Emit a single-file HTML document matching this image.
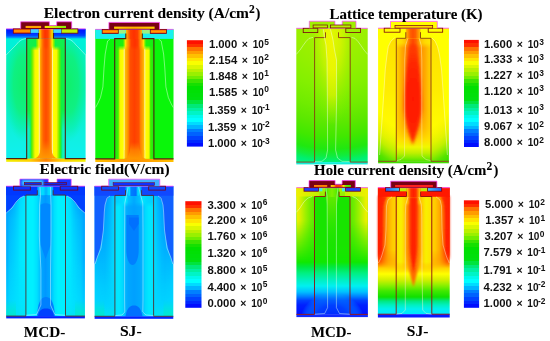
<!DOCTYPE html>
<html><head><meta charset="utf-8"><title>Simulation results</title>
<style>html,body{margin:0;padding:0;background:#fff;} body{width:550px;height:341px;overflow:hidden;} svg{display:block;}</style>
</head><body><svg width="550" height="341" viewBox="0 0 550 341"><defs><filter id="blur2" x="-50%" y="-20%" width="200%" height="140%"><feGaussianBlur stdDeviation="1.6"/></filter><filter id="blur1" x="-50%" y="-20%" width="200%" height="140%"><feGaussianBlur stdDeviation="0.8"/></filter><linearGradient id="g1" x1="0" y1="0" x2="0" y2="1"><stop offset="0.0000" stop-color="#00e0e0"/><stop offset="0.0856" stop-color="#00f0d0"/><stop offset="0.2398" stop-color="#04f0bc"/><stop offset="0.4711" stop-color="#06f0b4"/><stop offset="0.6638" stop-color="#0cf0cc"/><stop offset="0.8180" stop-color="#10f0e0"/><stop offset="1.0000" stop-color="#10f0f0"/></linearGradient><clipPath id="c2"><rect x="6.2" y="38" width="20.5" height="120.6"/></clipPath><radialGradient id="g3" cx="0.5" cy="0.5" r="0.5"><stop offset="0" stop-color="#10f068" stop-opacity="0.95"/><stop offset="0.5" stop-color="#10f078" stop-opacity="0.85"/><stop offset="0.8" stop-color="#08f098" stop-opacity="0.45"/><stop offset="1" stop-color="#08f0b0" stop-opacity="0"/></radialGradient><clipPath id="c4"><rect x="65.3" y="38" width="20.299999999999997" height="120.6"/></clipPath><radialGradient id="g5" cx="0.5" cy="0.5" r="0.5"><stop offset="0" stop-color="#10f068" stop-opacity="0.95"/><stop offset="0.5" stop-color="#10f078" stop-opacity="0.85"/><stop offset="0.8" stop-color="#08f098" stop-opacity="0.45"/><stop offset="1" stop-color="#08f0b0" stop-opacity="0"/></radialGradient><linearGradient id="g6" x1="0" y1="0" x2="1" y2="0"><stop offset="0.0000" stop-color="#10f050"/><stop offset="0.0855" stop-color="#10f040"/><stop offset="0.1373" stop-color="#60f000"/><stop offset="0.1839" stop-color="#c0f000"/><stop offset="0.2150" stop-color="#f8f800"/><stop offset="0.3005" stop-color="#ffff00"/><stop offset="0.3264" stop-color="#fff0a0"/><stop offset="0.3472" stop-color="#ffb000"/><stop offset="0.3912" stop-color="#ff8000"/><stop offset="0.4352" stop-color="#ff6000"/><stop offset="0.5000" stop-color="#ff4c00"/><stop offset="0.5648" stop-color="#ff6000"/><stop offset="0.6088" stop-color="#ff8000"/><stop offset="0.6451" stop-color="#ffa800"/><stop offset="0.6658" stop-color="#fff0a0"/><stop offset="0.6891" stop-color="#ffff00"/><stop offset="0.7720" stop-color="#f8f800"/><stop offset="0.8031" stop-color="#c0f000"/><stop offset="0.8497" stop-color="#60f000"/><stop offset="0.9016" stop-color="#10f040"/><stop offset="1.0000" stop-color="#10f050"/></linearGradient><linearGradient id="g7" x1="0" y1="0" x2="1" y2="0"><stop offset="0.0000" stop-color="#10f050"/><stop offset="0.2280" stop-color="#10f048"/><stop offset="0.2746" stop-color="#80f000"/><stop offset="0.3161" stop-color="#f0f000"/><stop offset="0.3497" stop-color="#ffc000"/><stop offset="0.3964" stop-color="#ff8000"/><stop offset="0.4482" stop-color="#ff5000"/><stop offset="0.5000" stop-color="#ff4000"/><stop offset="0.5518" stop-color="#ff5000"/><stop offset="0.6036" stop-color="#ff8000"/><stop offset="0.6347" stop-color="#ffc000"/><stop offset="0.6658" stop-color="#f0f000"/><stop offset="0.7021" stop-color="#80f000"/><stop offset="0.7461" stop-color="#10f048"/><stop offset="1.0000" stop-color="#10f050"/></linearGradient><linearGradient id="g9" x1="0" y1="0" x2="0" y2="1"><stop offset="0.0000" stop-color="#fff" stop-opacity="1"/><stop offset="0.5620" stop-color="#fff" stop-opacity="1"/><stop offset="0.8905" stop-color="#fff" stop-opacity="0"/></linearGradient><mask id="m8" maskUnits="userSpaceOnUse" x="26.7" y="38.3" width="38.599999999999994" height="13.700000000000003"><rect x="26.7" y="38.3" width="38.599999999999994" height="13.700000000000003" fill="url(#g9)"/></mask><linearGradient id="g10" x1="0" y1="0" x2="1" y2="0"><stop offset="0.0000" stop-color="#10f0f0" stop-opacity="1"/><stop offset="0.6000" stop-color="#10f0c0" stop-opacity="0.8"/><stop offset="1.0000" stop-color="#00f070" stop-opacity="0"/></linearGradient><linearGradient id="g12" x1="0" y1="0" x2="0" y2="1"><stop offset="0.0000" stop-color="#fff" stop-opacity="0"/><stop offset="0.4115" stop-color="#fff" stop-opacity="1"/></linearGradient><mask id="m11" maskUnits="userSpaceOnUse" x="26.7" y="110" width="5" height="48.599999999999994"><rect x="26.7" y="110" width="5" height="48.599999999999994" fill="url(#g12)"/></mask><linearGradient id="g13" x1="0" y1="0" x2="1" y2="0"><stop offset="0.0000" stop-color="#00f070" stop-opacity="0"/><stop offset="0.4000" stop-color="#10f0c0" stop-opacity="0.8"/><stop offset="1.0000" stop-color="#10f0f0" stop-opacity="1"/></linearGradient><linearGradient id="g15" x1="0" y1="0" x2="0" y2="1"><stop offset="0.0000" stop-color="#fff" stop-opacity="0"/><stop offset="0.4115" stop-color="#fff" stop-opacity="1"/></linearGradient><mask id="m14" maskUnits="userSpaceOnUse" x="60.3" y="110" width="5" height="48.599999999999994"><rect x="60.3" y="110" width="5" height="48.599999999999994" fill="url(#g15)"/></mask><linearGradient id="g16" x1="0" y1="0" x2="0" y2="1"><stop offset="0.0000" stop-color="#0010ff"/><stop offset="0.4227" stop-color="#0028ff"/><stop offset="0.6804" stop-color="#0048ff"/><stop offset="0.8351" stop-color="#0080ff"/><stop offset="1.0000" stop-color="#00c8f0"/></linearGradient><linearGradient id="g17" x1="0" y1="0" x2="1" y2="0"><stop offset="0.0000" stop-color="#f0f000"/><stop offset="0.0940" stop-color="#ffc000"/><stop offset="0.2282" stop-color="#ff6000"/><stop offset="0.4295" stop-color="#ff3000"/><stop offset="0.6309" stop-color="#ff4000"/><stop offset="0.7651" stop-color="#ff8000"/><stop offset="0.8993" stop-color="#ffd000"/><stop offset="1.0000" stop-color="#c0f000"/></linearGradient><linearGradient id="g18" x1="0" y1="0" x2="0" y2="1"><stop offset="0.0000" stop-color="#ff8000" stop-opacity="0"/><stop offset="0.5376" stop-color="#ff9000" stop-opacity="0.7"/><stop offset="1.0000" stop-color="#ff9800" stop-opacity="1"/></linearGradient><linearGradient id="g19" x1="0" y1="0" x2="1" y2="0"><stop offset="0.0000" stop-color="#f0f000"/><stop offset="0.2997" stop-color="#ffd000"/><stop offset="0.5013" stop-color="#ff8000"/><stop offset="0.7028" stop-color="#ffd000"/><stop offset="1.0000" stop-color="#f0f000"/></linearGradient><linearGradient id="g20" x1="0" y1="0" x2="0" y2="1"><stop offset="0.0000" stop-color="#ff5000"/><stop offset="0.5000" stop-color="#ffa000"/><stop offset="1.0000" stop-color="#ff5000"/></linearGradient><linearGradient id="g21" x1="0" y1="0" x2="0" y2="1"><stop offset="0.0000" stop-color="#a0f000"/><stop offset="0.5000" stop-color="#d0f000"/><stop offset="1.0000" stop-color="#a0f000"/></linearGradient><linearGradient id="g22" x1="0" y1="0" x2="1" y2="0"><stop offset="0.0000" stop-color="#ffe000"/><stop offset="0.4836" stop-color="#c0f000"/><stop offset="1.0000" stop-color="#80f000"/></linearGradient><linearGradient id="g23" x1="0" y1="0" x2="1" y2="0"><stop offset="0.0000" stop-color="#10f010"/><stop offset="0.0893" stop-color="#40f000"/><stop offset="0.1173" stop-color="#c0f000"/><stop offset="0.1403" stop-color="#f8f800"/><stop offset="0.2117" stop-color="#ffff00"/><stop offset="0.2423" stop-color="#fff080"/><stop offset="0.2628" stop-color="#ffc000"/><stop offset="0.3138" stop-color="#ffa000"/><stop offset="0.3520" stop-color="#ff8000"/><stop offset="0.3903" stop-color="#ff5000"/><stop offset="0.5051" stop-color="#ff4000"/><stop offset="0.6199" stop-color="#ff5000"/><stop offset="0.6582" stop-color="#ff8000"/><stop offset="0.7092" stop-color="#ffa000"/><stop offset="0.7474" stop-color="#ffc000"/><stop offset="0.7679" stop-color="#fff080"/><stop offset="0.7985" stop-color="#ffff00"/><stop offset="0.8648" stop-color="#f8f800"/><stop offset="0.8878" stop-color="#c0f000"/><stop offset="0.9158" stop-color="#40f000"/><stop offset="1.0000" stop-color="#10f010"/></linearGradient><linearGradient id="g24" x1="0" y1="0" x2="1" y2="0"><stop offset="0.0000" stop-color="#10f010"/><stop offset="0.2117" stop-color="#20f010"/><stop offset="0.2500" stop-color="#a0f000"/><stop offset="0.2755" stop-color="#ffe000"/><stop offset="0.3138" stop-color="#ffb000"/><stop offset="0.3648" stop-color="#ff8000"/><stop offset="0.4158" stop-color="#ff4000"/><stop offset="0.5179" stop-color="#ff3000"/><stop offset="0.5944" stop-color="#ff4000"/><stop offset="0.6454" stop-color="#ff8000"/><stop offset="0.6964" stop-color="#ffb000"/><stop offset="0.7347" stop-color="#ffe000"/><stop offset="0.7602" stop-color="#a0f000"/><stop offset="0.7985" stop-color="#20f010"/><stop offset="1.0000" stop-color="#10f010"/></linearGradient><linearGradient id="g26" x1="0" y1="0" x2="0" y2="1"><stop offset="0.0000" stop-color="#fff" stop-opacity="1"/><stop offset="0.5149" stop-color="#fff" stop-opacity="1"/><stop offset="0.8881" stop-color="#fff" stop-opacity="0"/></linearGradient><mask id="m25" maskUnits="userSpaceOnUse" x="114.7" y="38.6" width="39.2" height="13.399999999999999"><rect x="114.7" y="38.6" width="39.2" height="13.399999999999999" fill="url(#g26)"/></mask><linearGradient id="g27" x1="0" y1="0" x2="1" y2="0"><stop offset="0.0000" stop-color="#ffd000"/><stop offset="0.1333" stop-color="#ff8000"/><stop offset="0.2848" stop-color="#ff4000"/><stop offset="0.4970" stop-color="#ff3000"/><stop offset="0.7091" stop-color="#ff4000"/><stop offset="0.8606" stop-color="#ff8000"/><stop offset="1.0000" stop-color="#ffd000"/></linearGradient><linearGradient id="g28" x1="0" y1="0" x2="0" y2="1"><stop offset="0.0000" stop-color="#ff8000" stop-opacity="0"/><stop offset="0.4734" stop-color="#ff9000" stop-opacity="0.7"/><stop offset="1.0000" stop-color="#ff9800" stop-opacity="1"/></linearGradient><linearGradient id="g29" x1="0" y1="0" x2="1" y2="0"><stop offset="0.0000" stop-color="#ffc000"/><stop offset="0.4949" stop-color="#ff9000"/><stop offset="1.0000" stop-color="#ffc000"/></linearGradient><linearGradient id="g30" x1="0" y1="0" x2="0" y2="1"><stop offset="0.0000" stop-color="#ff5000"/><stop offset="0.5000" stop-color="#ffa000"/><stop offset="1.0000" stop-color="#ff5000"/></linearGradient><linearGradient id="g31" x1="0" y1="0" x2="0" y2="1"><stop offset="0.0000" stop-color="#ff5000"/><stop offset="0.5000" stop-color="#ffa000"/><stop offset="1.0000" stop-color="#ff5000"/></linearGradient><linearGradient id="g32" x1="0" y1="0" x2="1" y2="0"><stop offset="0.0000" stop-color="#ffd000"/><stop offset="0.4878" stop-color="#ffb000"/><stop offset="1.0000" stop-color="#ffd000"/></linearGradient><linearGradient id="g33" x1="0" y1="0" x2="0" y2="1"><stop offset="0.0000" stop-color="#ff1000"/><stop offset="0.0333" stop-color="#ff1000"/><stop offset="0.0333" stop-color="#ff3000"/><stop offset="0.0667" stop-color="#ff3000"/><stop offset="0.0667" stop-color="#ff7300"/><stop offset="0.1000" stop-color="#ff7300"/><stop offset="0.1000" stop-color="#ff9c00"/><stop offset="0.1333" stop-color="#ff9c00"/><stop offset="0.1333" stop-color="#ffc000"/><stop offset="0.1667" stop-color="#ffc000"/><stop offset="0.1667" stop-color="#ffe300"/><stop offset="0.2000" stop-color="#ffe300"/><stop offset="0.2000" stop-color="#f9fe00"/><stop offset="0.2333" stop-color="#f9fe00"/><stop offset="0.2333" stop-color="#dbf600"/><stop offset="0.2667" stop-color="#dbf600"/><stop offset="0.2667" stop-color="#bcf000"/><stop offset="0.3000" stop-color="#bcf000"/><stop offset="0.3000" stop-color="#99f000"/><stop offset="0.3333" stop-color="#99f000"/><stop offset="0.3333" stop-color="#70ed00"/><stop offset="0.3667" stop-color="#70ed00"/><stop offset="0.3667" stop-color="#3be400"/><stop offset="0.4000" stop-color="#3be400"/><stop offset="0.4000" stop-color="#15e000"/><stop offset="0.4333" stop-color="#15e000"/><stop offset="0.4333" stop-color="#00e000"/><stop offset="0.4667" stop-color="#00e000"/><stop offset="0.4667" stop-color="#00e005"/><stop offset="0.5000" stop-color="#00e005"/><stop offset="0.5000" stop-color="#00e00a"/><stop offset="0.5333" stop-color="#00e00a"/><stop offset="0.5333" stop-color="#00e00f"/><stop offset="0.5667" stop-color="#00e00f"/><stop offset="0.5667" stop-color="#00e43d"/><stop offset="0.6000" stop-color="#00e43d"/><stop offset="0.6000" stop-color="#00e978"/><stop offset="0.6333" stop-color="#00e978"/><stop offset="0.6333" stop-color="#00f0a0"/><stop offset="0.6667" stop-color="#00f0a0"/><stop offset="0.6667" stop-color="#00f4c6"/><stop offset="0.7000" stop-color="#00f4c6"/><stop offset="0.7000" stop-color="#00f8ec"/><stop offset="0.7333" stop-color="#00f8ec"/><stop offset="0.7333" stop-color="#00ffff"/><stop offset="0.7667" stop-color="#00ffff"/><stop offset="0.7667" stop-color="#00dcff"/><stop offset="0.8000" stop-color="#00dcff"/><stop offset="0.8000" stop-color="#00b5ff"/><stop offset="0.8333" stop-color="#00b5ff"/><stop offset="0.8333" stop-color="#0080ff"/><stop offset="0.8667" stop-color="#0080ff"/><stop offset="0.8667" stop-color="#0062ff"/><stop offset="0.9000" stop-color="#0062ff"/><stop offset="0.9000" stop-color="#0043ff"/><stop offset="0.9333" stop-color="#0043ff"/><stop offset="0.9333" stop-color="#0028ff"/><stop offset="0.9667" stop-color="#0028ff"/><stop offset="0.9667" stop-color="#000dff"/><stop offset="1.0000" stop-color="#000dff"/></linearGradient><radialGradient id="g34" gradientUnits="userSpaceOnUse" cx="332.4" cy="22" r="142"><stop offset="0.0000" stop-color="#a8f000"/><stop offset="0.1761" stop-color="#a0f000"/><stop offset="0.3169" stop-color="#94f000"/><stop offset="0.4577" stop-color="#84f000"/><stop offset="0.5986" stop-color="#70ec00"/><stop offset="0.7042" stop-color="#5ce800"/><stop offset="0.8099" stop-color="#40e800"/><stop offset="0.8944" stop-color="#20e810"/><stop offset="0.9437" stop-color="#10ec40"/><stop offset="0.9789" stop-color="#00f070"/><stop offset="1.0000" stop-color="#00f080"/></radialGradient><radialGradient id="g35" gradientUnits="userSpaceOnUse" cx="332.5" cy="36" r="100" gradientTransform="translate(332.5 36) scale(0.3 1.0) translate(-332.5 -36)"><stop offset="0.0000" stop-color="#e8f800" stop-opacity="0.9"/><stop offset="0.2500" stop-color="#e0f400" stop-opacity="0.8"/><stop offset="0.4000" stop-color="#ccf400" stop-opacity="0.7"/><stop offset="0.5500" stop-color="#b8f000" stop-opacity="0.5"/><stop offset="0.7000" stop-color="#a0f000" stop-opacity="0.3"/><stop offset="0.9000" stop-color="#80f000" stop-opacity="0"/></radialGradient><linearGradient id="g36" x1="0" y1="0" x2="0" y2="1"><stop offset="0.0000" stop-color="#f8f800" stop-opacity="0.6"/><stop offset="0.4312" stop-color="#f8f800" stop-opacity="0.7"/><stop offset="0.6898" stop-color="#e8f400" stop-opacity="0.6"/><stop offset="1.0000" stop-color="#a0f000" stop-opacity="0"/></linearGradient><radialGradient id="g37" gradientUnits="userSpaceOnUse" cx="413.5" cy="40" r="135" gradientTransform="translate(413.5 40) scale(0.6 1.0) translate(-413.5 -40)"><stop offset="0.0000" stop-color="#ffff00"/><stop offset="0.6815" stop-color="#ffff00"/><stop offset="0.7407" stop-color="#f4f800"/><stop offset="0.8000" stop-color="#e0f400"/><stop offset="0.8519" stop-color="#c0f000"/><stop offset="0.8963" stop-color="#90ec00"/><stop offset="0.9407" stop-color="#58e400"/><stop offset="1.0000" stop-color="#30e000"/></radialGradient><linearGradient id="g38" x1="0" y1="0" x2="0" y2="1"><stop offset="0.0000" stop-color="#ffd800" stop-opacity="0.8"/><stop offset="0.5098" stop-color="#ffe000" stop-opacity="0.6"/><stop offset="1.0000" stop-color="#ffe800" stop-opacity="0"/></linearGradient><linearGradient id="g39" x1="0" y1="0" x2="0" y2="1"><stop offset="0.0000" stop-color="#ffd800" stop-opacity="0.8"/><stop offset="0.5098" stop-color="#ffe000" stop-opacity="0.6"/><stop offset="1.0000" stop-color="#ffe800" stop-opacity="0"/></linearGradient><linearGradient id="g40" x1="0" y1="0" x2="1" y2="0"><stop offset="0.0000" stop-color="#ffd000"/><stop offset="0.0778" stop-color="#ffc000"/><stop offset="0.1643" stop-color="#ffa800"/><stop offset="0.2421" stop-color="#ff9800"/><stop offset="0.2795" stop-color="#ff8800"/><stop offset="0.3372" stop-color="#ff6800"/><stop offset="0.3948" stop-color="#ff5000"/><stop offset="0.4813" stop-color="#ff4000"/><stop offset="0.5677" stop-color="#ff5000"/><stop offset="0.6254" stop-color="#ff6800"/><stop offset="0.6830" stop-color="#ff8800"/><stop offset="0.7349" stop-color="#ff9800"/><stop offset="0.8271" stop-color="#ffa800"/><stop offset="0.9135" stop-color="#ffc000"/><stop offset="1.0000" stop-color="#ffd000"/></linearGradient><linearGradient id="g41" x1="0" y1="0" x2="1" y2="0"><stop offset="0.0000" stop-color="#ffe800"/><stop offset="0.1643" stop-color="#ffd800"/><stop offset="0.2738" stop-color="#ffc000"/><stop offset="0.3228" stop-color="#ff9000"/><stop offset="0.3948" stop-color="#ff6000"/><stop offset="0.4813" stop-color="#ff4800"/><stop offset="0.5677" stop-color="#ff6000"/><stop offset="0.6398" stop-color="#ff9000"/><stop offset="0.6974" stop-color="#ffc000"/><stop offset="0.8271" stop-color="#ffd800"/><stop offset="1.0000" stop-color="#ffe800"/></linearGradient><linearGradient id="g43" x1="0" y1="0" x2="0" y2="1"><stop offset="0.0000" stop-color="#fff" stop-opacity="1"/><stop offset="0.4017" stop-color="#fff" stop-opacity="1"/><stop offset="0.8291" stop-color="#fff" stop-opacity="0"/></linearGradient><mask id="m42" maskUnits="userSpaceOnUse" x="396.3" y="38.3" width="34.69999999999999" height="11.700000000000003"><rect x="396.3" y="38.3" width="34.69999999999999" height="11.700000000000003" fill="url(#g43)"/></mask><linearGradient id="g44" x1="0" y1="0" x2="0" y2="1"><stop offset="0.0000" stop-color="#ffd000" stop-opacity="0"/><stop offset="0.3509" stop-color="#ffd800" stop-opacity="0.45"/><stop offset="0.5848" stop-color="#ffe800" stop-opacity="0.85"/><stop offset="0.7212" stop-color="#f0f800" stop-opacity="1"/><stop offset="0.8382" stop-color="#c0f000" stop-opacity="1"/><stop offset="0.9357" stop-color="#80ec00" stop-opacity="1"/><stop offset="1.0000" stop-color="#50e400" stop-opacity="1"/></linearGradient><radialGradient id="g45" gradientUnits="userSpaceOnUse" cx="413" cy="100" r="52" gradientTransform="translate(413 100) scale(0.3 1.0) translate(-413 -100)"><stop offset="0.0000" stop-color="#ff1800"/><stop offset="0.4808" stop-color="#ff2000"/><stop offset="0.7308" stop-color="#ff2800"/><stop offset="0.9231" stop-color="#ff3800"/></radialGradient><linearGradient id="g46" x1="0" y1="0" x2="1" y2="0"><stop offset="0.0000" stop-color="#ffc000"/><stop offset="0.1497" stop-color="#ff9000"/><stop offset="0.3197" stop-color="#ff6000"/><stop offset="0.4898" stop-color="#ff5000"/><stop offset="0.6599" stop-color="#ff6000"/><stop offset="0.8299" stop-color="#ff9000"/><stop offset="1.0000" stop-color="#ffc000"/></linearGradient><linearGradient id="g47" x1="0" y1="0" x2="0" y2="1"><stop offset="0.0000" stop-color="#ff1000"/><stop offset="0.0333" stop-color="#ff1000"/><stop offset="0.0333" stop-color="#ff3000"/><stop offset="0.0667" stop-color="#ff3000"/><stop offset="0.0667" stop-color="#ff7300"/><stop offset="0.1000" stop-color="#ff7300"/><stop offset="0.1000" stop-color="#ff9c00"/><stop offset="0.1333" stop-color="#ff9c00"/><stop offset="0.1333" stop-color="#ffc000"/><stop offset="0.1667" stop-color="#ffc000"/><stop offset="0.1667" stop-color="#ffe300"/><stop offset="0.2000" stop-color="#ffe300"/><stop offset="0.2000" stop-color="#f9fe00"/><stop offset="0.2333" stop-color="#f9fe00"/><stop offset="0.2333" stop-color="#dbf600"/><stop offset="0.2667" stop-color="#dbf600"/><stop offset="0.2667" stop-color="#bcf000"/><stop offset="0.3000" stop-color="#bcf000"/><stop offset="0.3000" stop-color="#99f000"/><stop offset="0.3333" stop-color="#99f000"/><stop offset="0.3333" stop-color="#70ed00"/><stop offset="0.3667" stop-color="#70ed00"/><stop offset="0.3667" stop-color="#3be400"/><stop offset="0.4000" stop-color="#3be400"/><stop offset="0.4000" stop-color="#15e000"/><stop offset="0.4333" stop-color="#15e000"/><stop offset="0.4333" stop-color="#00e000"/><stop offset="0.4667" stop-color="#00e000"/><stop offset="0.4667" stop-color="#00e005"/><stop offset="0.5000" stop-color="#00e005"/><stop offset="0.5000" stop-color="#00e00a"/><stop offset="0.5333" stop-color="#00e00a"/><stop offset="0.5333" stop-color="#00e00f"/><stop offset="0.5667" stop-color="#00e00f"/><stop offset="0.5667" stop-color="#00e43d"/><stop offset="0.6000" stop-color="#00e43d"/><stop offset="0.6000" stop-color="#00e978"/><stop offset="0.6333" stop-color="#00e978"/><stop offset="0.6333" stop-color="#00f0a0"/><stop offset="0.6667" stop-color="#00f0a0"/><stop offset="0.6667" stop-color="#00f4c6"/><stop offset="0.7000" stop-color="#00f4c6"/><stop offset="0.7000" stop-color="#00f8ec"/><stop offset="0.7333" stop-color="#00f8ec"/><stop offset="0.7333" stop-color="#00ffff"/><stop offset="0.7667" stop-color="#00ffff"/><stop offset="0.7667" stop-color="#00dcff"/><stop offset="0.8000" stop-color="#00dcff"/><stop offset="0.8000" stop-color="#00b5ff"/><stop offset="0.8333" stop-color="#00b5ff"/><stop offset="0.8333" stop-color="#0080ff"/><stop offset="0.8667" stop-color="#0080ff"/><stop offset="0.8667" stop-color="#0062ff"/><stop offset="0.9000" stop-color="#0062ff"/><stop offset="0.9000" stop-color="#0043ff"/><stop offset="0.9333" stop-color="#0043ff"/><stop offset="0.9333" stop-color="#0028ff"/><stop offset="0.9667" stop-color="#0028ff"/><stop offset="0.9667" stop-color="#000dff"/><stop offset="1.0000" stop-color="#000dff"/></linearGradient><linearGradient id="g48" x1="0" y1="0" x2="0" y2="1"><stop offset="0.0000" stop-color="#0060ff"/><stop offset="0.1447" stop-color="#0098ff"/><stop offset="0.2602" stop-color="#00b8ff"/><stop offset="0.4142" stop-color="#00c8ff"/><stop offset="0.6451" stop-color="#00d8ff"/><stop offset="0.8761" stop-color="#00e0ff"/><stop offset="1.0000" stop-color="#00e4f4"/></linearGradient><linearGradient id="g49" x1="0" y1="0" x2="1" y2="0"><stop offset="0.0000" stop-color="#0090ff" stop-opacity="0.7"/><stop offset="0.1929" stop-color="#00b8ff" stop-opacity="0.4"/><stop offset="0.4467" stop-color="#00d8ff" stop-opacity="0.5"/><stop offset="0.7005" stop-color="#00ecff" stop-opacity="0.8"/><stop offset="1.0000" stop-color="#00f0ff" stop-opacity="0.95"/></linearGradient><linearGradient id="g51" x1="0" y1="0" x2="0" y2="1"><stop offset="0.0000" stop-color="#fff" stop-opacity="1"/><stop offset="0.5329" stop-color="#fff" stop-opacity="1"/><stop offset="0.8659" stop-color="#fff" stop-opacity="0.5"/><stop offset="1.0000" stop-color="#fff" stop-opacity="0.2"/></linearGradient><mask id="m50" maskUnits="userSpaceOnUse" x="6.2" y="196" width="19.7" height="120.10000000000002"><rect x="6.2" y="196" width="19.7" height="120.10000000000002" fill="url(#g51)"/></mask><linearGradient id="g52" x1="0" y1="0" x2="1" y2="0"><stop offset="0.0000" stop-color="#00f0ff" stop-opacity="0.95"/><stop offset="0.2423" stop-color="#00ecff" stop-opacity="0.8"/><stop offset="0.5000" stop-color="#00d8ff" stop-opacity="0.5"/><stop offset="0.7577" stop-color="#00b8ff" stop-opacity="0.4"/><stop offset="1.0000" stop-color="#0090ff" stop-opacity="0.7"/></linearGradient><linearGradient id="g54" x1="0" y1="0" x2="0" y2="1"><stop offset="0.0000" stop-color="#fff" stop-opacity="1"/><stop offset="0.5329" stop-color="#fff" stop-opacity="1"/><stop offset="0.8659" stop-color="#fff" stop-opacity="0.5"/><stop offset="1.0000" stop-color="#fff" stop-opacity="0.2"/></linearGradient><mask id="m53" maskUnits="userSpaceOnUse" x="65.5" y="196" width="19.400000000000006" height="120.10000000000002"><rect x="65.5" y="196" width="19.400000000000006" height="120.10000000000002" fill="url(#g54)"/></mask><linearGradient id="g56" x1="0" y1="0" x2="0" y2="1"><stop offset="0.0000" stop-color="#fff" stop-opacity="0"/><stop offset="1.0000" stop-color="#fff" stop-opacity="0.8"/></linearGradient><mask id="m55" maskUnits="userSpaceOnUse" x="6.2" y="300" width="10" height="16.100000000000023"><rect x="6.2" y="300" width="10" height="16.100000000000023" fill="url(#g56)"/></mask><linearGradient id="g58" x1="0" y1="0" x2="0" y2="1"><stop offset="0.0000" stop-color="#fff" stop-opacity="0"/><stop offset="1.0000" stop-color="#fff" stop-opacity="0.8"/></linearGradient><mask id="m57" maskUnits="userSpaceOnUse" x="74.9" y="300" width="10" height="16.100000000000023"><rect x="74.9" y="300" width="10" height="16.100000000000023" fill="url(#g58)"/></mask><linearGradient id="g59" x1="0" y1="0" x2="1" y2="0"><stop offset="0.0000" stop-color="#00f0ff"/><stop offset="0.1793" stop-color="#00f0ff"/><stop offset="0.2803" stop-color="#00e0ff"/><stop offset="0.3434" stop-color="#00c8ff"/><stop offset="0.3813" stop-color="#00a8ff"/><stop offset="0.4949" stop-color="#0098ff"/><stop offset="0.6086" stop-color="#00a8ff"/><stop offset="0.6591" stop-color="#00c8ff"/><stop offset="0.7222" stop-color="#00e0ff"/><stop offset="0.8106" stop-color="#00f0ff"/><stop offset="1.0000" stop-color="#00f0ff"/></linearGradient><linearGradient id="g60" x1="0" y1="0" x2="1" y2="0"><stop offset="0.0000" stop-color="#00a0ff"/><stop offset="0.1698" stop-color="#00d0ff"/><stop offset="0.3585" stop-color="#00e0ff"/><stop offset="0.5472" stop-color="#00b0ff"/><stop offset="0.7358" stop-color="#00e0ff"/><stop offset="0.8616" stop-color="#00d0ff"/><stop offset="1.0000" stop-color="#00a0ff"/></linearGradient><linearGradient id="g61" x1="0" y1="0" x2="0" y2="1"><stop offset="0.0000" stop-color="#0070ff"/><stop offset="0.1829" stop-color="#0090ff"/><stop offset="0.4135" stop-color="#00a8ff"/><stop offset="0.6057" stop-color="#00c0ff"/><stop offset="0.7594" stop-color="#00d0ff"/><stop offset="0.9131" stop-color="#00d8ff"/><stop offset="1.0000" stop-color="#00e4f0"/></linearGradient><linearGradient id="g62" x1="0" y1="0" x2="1" y2="0"><stop offset="0.0000" stop-color="#00a0ff" stop-opacity="0"/><stop offset="0.4631" stop-color="#00b0ff" stop-opacity="0.3"/><stop offset="0.7586" stop-color="#00d0ff" stop-opacity="0.6"/><stop offset="1.0000" stop-color="#00e4ff" stop-opacity="0.9"/></linearGradient><linearGradient id="g64" x1="0" y1="0" x2="0" y2="1"><stop offset="0.0000" stop-color="#fff" stop-opacity="1"/><stop offset="0.6151" stop-color="#fff" stop-opacity="1"/><stop offset="0.8645" stop-color="#fff" stop-opacity="0.4"/><stop offset="1.0000" stop-color="#fff" stop-opacity="0"/></linearGradient><mask id="m63" maskUnits="userSpaceOnUse" x="94.6" y="196" width="20.30000000000001" height="120.30000000000001"><rect x="94.6" y="196" width="20.30000000000001" height="120.30000000000001" fill="url(#g64)"/></mask><linearGradient id="g65" x1="0" y1="0" x2="1" y2="0"><stop offset="0.0000" stop-color="#00e4ff" stop-opacity="0.9"/><stop offset="0.2487" stop-color="#00d0ff" stop-opacity="0.6"/><stop offset="0.5533" stop-color="#00b0ff" stop-opacity="0.3"/><stop offset="1.0000" stop-color="#00a0ff" stop-opacity="0"/></linearGradient><linearGradient id="g67" x1="0" y1="0" x2="0" y2="1"><stop offset="0.0000" stop-color="#fff" stop-opacity="1"/><stop offset="0.6151" stop-color="#fff" stop-opacity="1"/><stop offset="0.8645" stop-color="#fff" stop-opacity="0.4"/><stop offset="1.0000" stop-color="#fff" stop-opacity="0"/></linearGradient><mask id="m66" maskUnits="userSpaceOnUse" x="153.6" y="196" width="19.700000000000017" height="120.30000000000001"><rect x="153.6" y="196" width="19.700000000000017" height="120.30000000000001" fill="url(#g67)"/></mask><linearGradient id="g69" x1="0" y1="0" x2="0" y2="1"><stop offset="0.0000" stop-color="#fff" stop-opacity="0"/><stop offset="1.0000" stop-color="#fff" stop-opacity="0.8"/></linearGradient><mask id="m68" maskUnits="userSpaceOnUse" x="94.6" y="300" width="10" height="16.30000000000001"><rect x="94.6" y="300" width="10" height="16.30000000000001" fill="url(#g69)"/></mask><linearGradient id="g71" x1="0" y1="0" x2="0" y2="1"><stop offset="0.0000" stop-color="#fff" stop-opacity="0"/><stop offset="1.0000" stop-color="#fff" stop-opacity="0.8"/></linearGradient><mask id="m70" maskUnits="userSpaceOnUse" x="163.3" y="300" width="10" height="16.30000000000001"><rect x="163.3" y="300" width="10" height="16.30000000000001" fill="url(#g71)"/></mask><linearGradient id="g72" x1="0" y1="0" x2="1" y2="0"><stop offset="0.0000" stop-color="#00e4ff"/><stop offset="0.1059" stop-color="#00e8ff"/><stop offset="0.2093" stop-color="#00d8ff"/><stop offset="0.2610" stop-color="#00b8ff"/><stop offset="0.3385" stop-color="#00a8ff"/><stop offset="0.4987" stop-color="#00a0ff"/><stop offset="0.6486" stop-color="#00a8ff"/><stop offset="0.7261" stop-color="#00b8ff"/><stop offset="0.7778" stop-color="#00d8ff"/><stop offset="0.8811" stop-color="#00e8ff"/><stop offset="1.0000" stop-color="#00e4ff"/></linearGradient><linearGradient id="g73" x1="0" y1="0" x2="1" y2="0"><stop offset="0.0000" stop-color="#00d0ff"/><stop offset="0.1835" stop-color="#00d8ff"/><stop offset="0.2868" stop-color="#00e8ff"/><stop offset="0.3514" stop-color="#00c0ff"/><stop offset="0.4935" stop-color="#00a8ff"/><stop offset="0.6357" stop-color="#00c0ff"/><stop offset="0.7003" stop-color="#00e8ff"/><stop offset="0.8036" stop-color="#00d8ff"/><stop offset="1.0000" stop-color="#00d0ff"/></linearGradient><linearGradient id="g75" x1="0" y1="0" x2="0" y2="1"><stop offset="0.0000" stop-color="#fff" stop-opacity="1"/><stop offset="0.5500" stop-color="#fff" stop-opacity="1"/><stop offset="0.9667" stop-color="#fff" stop-opacity="0"/></linearGradient><mask id="m74" maskUnits="userSpaceOnUse" x="114.9" y="195.4" width="38.69999999999999" height="12"><rect x="114.9" y="195.4" width="38.69999999999999" height="12" fill="url(#g75)"/></mask><linearGradient id="g76" x1="0" y1="0" x2="1" y2="0"><stop offset="0.0000" stop-color="#0090ff"/><stop offset="0.1242" stop-color="#00c8ff"/><stop offset="0.2484" stop-color="#00e0ff"/><stop offset="0.3416" stop-color="#0080ff"/><stop offset="0.6522" stop-color="#0070ff"/><stop offset="0.7764" stop-color="#00e0ff"/><stop offset="0.8882" stop-color="#00c8ff"/><stop offset="1.0000" stop-color="#0090ff"/></linearGradient><linearGradient id="g77" x1="0" y1="0" x2="0" y2="1"><stop offset="0.0000" stop-color="#ff1000"/><stop offset="0.0333" stop-color="#ff1000"/><stop offset="0.0333" stop-color="#ff3000"/><stop offset="0.0667" stop-color="#ff3000"/><stop offset="0.0667" stop-color="#ff7300"/><stop offset="0.1000" stop-color="#ff7300"/><stop offset="0.1000" stop-color="#ff9c00"/><stop offset="0.1333" stop-color="#ff9c00"/><stop offset="0.1333" stop-color="#ffc000"/><stop offset="0.1667" stop-color="#ffc000"/><stop offset="0.1667" stop-color="#ffe300"/><stop offset="0.2000" stop-color="#ffe300"/><stop offset="0.2000" stop-color="#f9fe00"/><stop offset="0.2333" stop-color="#f9fe00"/><stop offset="0.2333" stop-color="#dbf600"/><stop offset="0.2667" stop-color="#dbf600"/><stop offset="0.2667" stop-color="#bcf000"/><stop offset="0.3000" stop-color="#bcf000"/><stop offset="0.3000" stop-color="#99f000"/><stop offset="0.3333" stop-color="#99f000"/><stop offset="0.3333" stop-color="#70ed00"/><stop offset="0.3667" stop-color="#70ed00"/><stop offset="0.3667" stop-color="#3be400"/><stop offset="0.4000" stop-color="#3be400"/><stop offset="0.4000" stop-color="#15e000"/><stop offset="0.4333" stop-color="#15e000"/><stop offset="0.4333" stop-color="#00e000"/><stop offset="0.4667" stop-color="#00e000"/><stop offset="0.4667" stop-color="#00e005"/><stop offset="0.5000" stop-color="#00e005"/><stop offset="0.5000" stop-color="#00e00a"/><stop offset="0.5333" stop-color="#00e00a"/><stop offset="0.5333" stop-color="#00e00f"/><stop offset="0.5667" stop-color="#00e00f"/><stop offset="0.5667" stop-color="#00e43d"/><stop offset="0.6000" stop-color="#00e43d"/><stop offset="0.6000" stop-color="#00e978"/><stop offset="0.6333" stop-color="#00e978"/><stop offset="0.6333" stop-color="#00f0a0"/><stop offset="0.6667" stop-color="#00f0a0"/><stop offset="0.6667" stop-color="#00f4c6"/><stop offset="0.7000" stop-color="#00f4c6"/><stop offset="0.7000" stop-color="#00f8ec"/><stop offset="0.7333" stop-color="#00f8ec"/><stop offset="0.7333" stop-color="#00ffff"/><stop offset="0.7667" stop-color="#00ffff"/><stop offset="0.7667" stop-color="#00dcff"/><stop offset="0.8000" stop-color="#00dcff"/><stop offset="0.8000" stop-color="#00b5ff"/><stop offset="0.8333" stop-color="#00b5ff"/><stop offset="0.8333" stop-color="#0080ff"/><stop offset="0.8667" stop-color="#0080ff"/><stop offset="0.8667" stop-color="#0062ff"/><stop offset="0.9000" stop-color="#0062ff"/><stop offset="0.9000" stop-color="#0043ff"/><stop offset="0.9333" stop-color="#0043ff"/><stop offset="0.9333" stop-color="#0028ff"/><stop offset="0.9667" stop-color="#0028ff"/><stop offset="0.9667" stop-color="#000dff"/><stop offset="1.0000" stop-color="#000dff"/></linearGradient><linearGradient id="g78" x1="0" y1="0" x2="0" y2="1"><stop offset="0.0000" stop-color="#b0f000"/><stop offset="0.0971" stop-color="#80f000"/><stop offset="0.2155" stop-color="#40e800"/><stop offset="0.3339" stop-color="#20e800"/><stop offset="0.5864" stop-color="#10e800"/><stop offset="0.6259" stop-color="#00e840"/><stop offset="0.6732" stop-color="#00f080"/><stop offset="0.7285" stop-color="#00f0c0"/><stop offset="0.7758" stop-color="#00f0f0"/><stop offset="0.8232" stop-color="#00c0ff"/><stop offset="0.8587" stop-color="#0080ff"/><stop offset="0.8903" stop-color="#0040ff"/><stop offset="0.9258" stop-color="#0020ff"/><stop offset="1.0000" stop-color="#0010ff"/></linearGradient><clipPath id="c79"><rect x="296.4" y="187.7" width="71.5" height="126.69999999999999"/></clipPath><radialGradient id="g80" cx="0.5" cy="0.5" r="0.5"><stop offset="0" stop-color="#0020ff"/><stop offset="0.55" stop-color="#0040ff"/><stop offset="0.8" stop-color="#0080ff" stop-opacity="0.5"/><stop offset="1" stop-color="#00c0ff" stop-opacity="0"/></radialGradient><linearGradient id="g81" x1="0" y1="0" x2="1" y2="0"><stop offset="0.0000" stop-color="#f4f000"/><stop offset="0.1436" stop-color="#e4f000"/><stop offset="0.3094" stop-color="#c4f000"/><stop offset="0.5304" stop-color="#98f000"/><stop offset="0.7514" stop-color="#74ec00"/><stop offset="1.0000" stop-color="#58e800"/></linearGradient><linearGradient id="g83" x1="0" y1="0" x2="0" y2="1"><stop offset="0.0000" stop-color="#fff" stop-opacity="1"/><stop offset="0.4307" stop-color="#fff" stop-opacity="1"/><stop offset="0.6973" stop-color="#fff" stop-opacity="0.5"/><stop offset="1.0000" stop-color="#fff" stop-opacity="0"/></linearGradient><mask id="m82" maskUnits="userSpaceOnUse" x="296.4" y="187.7" width="18.100000000000023" height="75"><rect x="296.4" y="187.7" width="18.100000000000023" height="75" fill="url(#g83)"/></mask><linearGradient id="g84" x1="0" y1="0" x2="1" y2="0"><stop offset="0.0000" stop-color="#58e800"/><stop offset="0.2402" stop-color="#74ec00"/><stop offset="0.4637" stop-color="#98f000"/><stop offset="0.6872" stop-color="#c4f000"/><stop offset="0.8547" stop-color="#e4f000"/><stop offset="1.0000" stop-color="#f4f000"/></linearGradient><linearGradient id="g86" x1="0" y1="0" x2="0" y2="1"><stop offset="0.0000" stop-color="#fff" stop-opacity="1"/><stop offset="0.4307" stop-color="#fff" stop-opacity="1"/><stop offset="0.6973" stop-color="#fff" stop-opacity="0.5"/><stop offset="1.0000" stop-color="#fff" stop-opacity="0"/></linearGradient><mask id="m85" maskUnits="userSpaceOnUse" x="350.0" y="187.7" width="17.899999999999977" height="75"><rect x="350.0" y="187.7" width="17.899999999999977" height="75" fill="url(#g86)"/></mask><linearGradient id="g88" x1="0" y1="0" x2="0" y2="1"><stop offset="0.0000" stop-color="#fff" stop-opacity="1"/><stop offset="0.7823" stop-color="#fff" stop-opacity="1"/><stop offset="1.0000" stop-color="#fff" stop-opacity="0"/></linearGradient><mask id="m87" maskUnits="userSpaceOnUse" x="314.5" y="196.5" width="35.5" height="62"><rect x="314.5" y="196.5" width="35.5" height="62" fill="url(#g88)"/></mask><linearGradient id="g89" x1="0" y1="0" x2="0" y2="1"><stop offset="0.0000" stop-color="#70ec00"/><stop offset="0.2777" stop-color="#50e800"/><stop offset="1.0000" stop-color="#20e800" stop-opacity="0"/></linearGradient><linearGradient id="g90" x1="0" y1="0" x2="1" y2="0"><stop offset="0.0000" stop-color="#f0f000"/><stop offset="0.5022" stop-color="#d8f000"/><stop offset="1.0000" stop-color="#c0f000"/></linearGradient><linearGradient id="g91" x1="0" y1="0" x2="1" y2="0"><stop offset="0.0000" stop-color="#c0f000"/><stop offset="0.4803" stop-color="#d8f000"/><stop offset="1.0000" stop-color="#f0f000"/></linearGradient><linearGradient id="g92" x1="0" y1="0" x2="1" y2="0"><stop offset="0.0000" stop-color="#30e800"/><stop offset="0.1898" stop-color="#60ec00"/><stop offset="0.4818" stop-color="#80f000"/><stop offset="0.7737" stop-color="#60ec00"/><stop offset="1.0000" stop-color="#30e800"/></linearGradient><linearGradient id="g93" x1="0" y1="0" x2="1" y2="0"><stop offset="0.0000" stop-color="#ffe000"/><stop offset="0.1634" stop-color="#ffb000"/><stop offset="0.2624" stop-color="#ff3000"/><stop offset="0.5099" stop-color="#ff4000"/><stop offset="0.6337" stop-color="#ffe000"/><stop offset="0.7574" stop-color="#60f000"/><stop offset="1.0000" stop-color="#40e800"/></linearGradient><linearGradient id="g94" x1="0" y1="0" x2="0" y2="1"><stop offset="0.0000" stop-color="#ff2000"/><stop offset="0.4925" stop-color="#ff8000"/><stop offset="0.5715" stop-color="#ff9800"/><stop offset="0.6032" stop-color="#ffb000"/><stop offset="0.6348" stop-color="#ffd000"/><stop offset="0.6822" stop-color="#ffff00"/><stop offset="0.7296" stop-color="#d0f000"/><stop offset="0.7692" stop-color="#90f000"/><stop offset="0.8166" stop-color="#40e800"/><stop offset="0.8640" stop-color="#10e000"/><stop offset="0.8957" stop-color="#00e880"/><stop offset="0.9273" stop-color="#00f0c0"/><stop offset="0.9589" stop-color="#00f0f0"/><stop offset="1.0000" stop-color="#00e8ff"/></linearGradient><linearGradient id="g95" x1="0" y1="0" x2="1" y2="0"><stop offset="0.0000" stop-color="#ff1800"/><stop offset="0.1694" stop-color="#ff2000"/><stop offset="0.2787" stop-color="#ff5000"/><stop offset="0.4153" stop-color="#ff8000"/><stop offset="0.5519" stop-color="#ffa800"/><stop offset="0.7705" stop-color="#ffc800"/><stop offset="1.0000" stop-color="#ffd800"/></linearGradient><linearGradient id="g97" x1="0" y1="0" x2="0" y2="1"><stop offset="0.0000" stop-color="#fff" stop-opacity="1"/><stop offset="0.7500" stop-color="#fff" stop-opacity="1"/><stop offset="0.9167" stop-color="#fff" stop-opacity="0.5"/><stop offset="1.0000" stop-color="#fff" stop-opacity="0"/></linearGradient><mask id="m96" maskUnits="userSpaceOnUse" x="377.9" y="196" width="18.30000000000001" height="72"><rect x="377.9" y="196" width="18.30000000000001" height="72" fill="url(#g97)"/></mask><linearGradient id="g98" x1="0" y1="0" x2="1" y2="0"><stop offset="0.0000" stop-color="#ffd800"/><stop offset="0.2067" stop-color="#ffc800"/><stop offset="0.4302" stop-color="#ffa800"/><stop offset="0.5698" stop-color="#ff8000"/><stop offset="0.7095" stop-color="#ff5000"/><stop offset="0.8212" stop-color="#ff2000"/><stop offset="1.0000" stop-color="#ff1800"/></linearGradient><linearGradient id="g100" x1="0" y1="0" x2="0" y2="1"><stop offset="0.0000" stop-color="#fff" stop-opacity="1"/><stop offset="0.7500" stop-color="#fff" stop-opacity="1"/><stop offset="0.9167" stop-color="#fff" stop-opacity="0.5"/><stop offset="1.0000" stop-color="#fff" stop-opacity="0"/></linearGradient><mask id="m99" maskUnits="userSpaceOnUse" x="431.8" y="196" width="17.899999999999977" height="72"><rect x="431.8" y="196" width="17.899999999999977" height="72" fill="url(#g100)"/></mask><linearGradient id="g101" x1="0" y1="0" x2="1" y2="0"><stop offset="0.0000" stop-color="#ffe000"/><stop offset="0.1348" stop-color="#f8f000"/><stop offset="0.2191" stop-color="#ffd800"/><stop offset="0.2753" stop-color="#ffc800"/><stop offset="0.4860" stop-color="#ffb800"/><stop offset="0.6966" stop-color="#ffc800"/><stop offset="0.7528" stop-color="#ffd800"/><stop offset="0.8371" stop-color="#f8f000"/><stop offset="1.0000" stop-color="#ffe000"/></linearGradient><linearGradient id="g103" x1="0" y1="0" x2="0" y2="1"><stop offset="0.0000" stop-color="#fff" stop-opacity="1"/><stop offset="0.8618" stop-color="#fff" stop-opacity="1"/><stop offset="1.0000" stop-color="#fff" stop-opacity="0"/></linearGradient><mask id="m102" maskUnits="userSpaceOnUse" x="396.2" y="196.5" width="35.60000000000002" height="76"><rect x="396.2" y="196.5" width="35.60000000000002" height="76" fill="url(#g103)"/></mask><linearGradient id="g104" x1="0" y1="0" x2="1" y2="0"><stop offset="0.0000" stop-color="#ffa800"/><stop offset="0.1595" stop-color="#ff8800"/><stop offset="0.4969" stop-color="#ff6800"/><stop offset="0.8344" stop-color="#ff8800"/><stop offset="1.0000" stop-color="#ffa800"/></linearGradient><linearGradient id="g105" x1="0" y1="0" x2="1" y2="0"><stop offset="0.0000" stop-color="#ff4800"/><stop offset="0.2222" stop-color="#ff2800"/><stop offset="0.5000" stop-color="#ff1c00"/><stop offset="0.7778" stop-color="#ff2800"/><stop offset="1.0000" stop-color="#ff4800"/></linearGradient><linearGradient id="g106" x1="0" y1="0" x2="1" y2="0"><stop offset="0.0000" stop-color="#ffe000"/><stop offset="0.1418" stop-color="#ff9000"/><stop offset="0.3191" stop-color="#ff3000"/><stop offset="0.4965" stop-color="#ff2000"/><stop offset="0.6738" stop-color="#ff3000"/><stop offset="0.8511" stop-color="#ff9000"/><stop offset="1.0000" stop-color="#ffe000"/></linearGradient><linearGradient id="g107" x1="0" y1="0" x2="1" y2="0"><stop offset="0.0000" stop-color="#2060ff"/><stop offset="1.0000" stop-color="#40c8ff"/></linearGradient><linearGradient id="g108" x1="0" y1="0" x2="1" y2="0"><stop offset="0.0000" stop-color="#40c8ff"/><stop offset="1.0000" stop-color="#2060ff"/></linearGradient><linearGradient id="g109" x1="0" y1="0" x2="0" y2="1"><stop offset="0.0000" stop-color="#ff1000"/><stop offset="0.0333" stop-color="#ff1000"/><stop offset="0.0333" stop-color="#ff3000"/><stop offset="0.0667" stop-color="#ff3000"/><stop offset="0.0667" stop-color="#ff7300"/><stop offset="0.1000" stop-color="#ff7300"/><stop offset="0.1000" stop-color="#ff9c00"/><stop offset="0.1333" stop-color="#ff9c00"/><stop offset="0.1333" stop-color="#ffc000"/><stop offset="0.1667" stop-color="#ffc000"/><stop offset="0.1667" stop-color="#ffe300"/><stop offset="0.2000" stop-color="#ffe300"/><stop offset="0.2000" stop-color="#f9fe00"/><stop offset="0.2333" stop-color="#f9fe00"/><stop offset="0.2333" stop-color="#dbf600"/><stop offset="0.2667" stop-color="#dbf600"/><stop offset="0.2667" stop-color="#bcf000"/><stop offset="0.3000" stop-color="#bcf000"/><stop offset="0.3000" stop-color="#99f000"/><stop offset="0.3333" stop-color="#99f000"/><stop offset="0.3333" stop-color="#70ed00"/><stop offset="0.3667" stop-color="#70ed00"/><stop offset="0.3667" stop-color="#3be400"/><stop offset="0.4000" stop-color="#3be400"/><stop offset="0.4000" stop-color="#15e000"/><stop offset="0.4333" stop-color="#15e000"/><stop offset="0.4333" stop-color="#00e000"/><stop offset="0.4667" stop-color="#00e000"/><stop offset="0.4667" stop-color="#00e005"/><stop offset="0.5000" stop-color="#00e005"/><stop offset="0.5000" stop-color="#00e00a"/><stop offset="0.5333" stop-color="#00e00a"/><stop offset="0.5333" stop-color="#00e00f"/><stop offset="0.5667" stop-color="#00e00f"/><stop offset="0.5667" stop-color="#00e43d"/><stop offset="0.6000" stop-color="#00e43d"/><stop offset="0.6000" stop-color="#00e978"/><stop offset="0.6333" stop-color="#00e978"/><stop offset="0.6333" stop-color="#00f0a0"/><stop offset="0.6667" stop-color="#00f0a0"/><stop offset="0.6667" stop-color="#00f4c6"/><stop offset="0.7000" stop-color="#00f4c6"/><stop offset="0.7000" stop-color="#00f8ec"/><stop offset="0.7333" stop-color="#00f8ec"/><stop offset="0.7333" stop-color="#00ffff"/><stop offset="0.7667" stop-color="#00ffff"/><stop offset="0.7667" stop-color="#00dcff"/><stop offset="0.8000" stop-color="#00dcff"/><stop offset="0.8000" stop-color="#00b5ff"/><stop offset="0.8333" stop-color="#00b5ff"/><stop offset="0.8333" stop-color="#0080ff"/><stop offset="0.8667" stop-color="#0080ff"/><stop offset="0.8667" stop-color="#0062ff"/><stop offset="0.9000" stop-color="#0062ff"/><stop offset="0.9000" stop-color="#0043ff"/><stop offset="0.9333" stop-color="#0043ff"/><stop offset="0.9333" stop-color="#0028ff"/><stop offset="0.9667" stop-color="#0028ff"/><stop offset="0.9667" stop-color="#000dff"/><stop offset="1.0000" stop-color="#000dff"/></linearGradient></defs><rect x="6.20" y="28.90" width="79.40" height="129.70" fill="url(#g1)" /><ellipse cx="23" cy="84" rx="19" ry="58" clip-path="url(#c2)" fill="url(#g3)"/><ellipse cx="68.8" cy="84" rx="19" ry="58" clip-path="url(#c4)" fill="url(#g5)"/><path d="M6.2,38 L6.2,55 C12,49 18,41 26.7,38.3 Z" fill="#00f0d8"/><path d="M85.6,38 L85.6,55 C80,49 74,41 65.3,38.3 Z" fill="#00f0d8"/><rect x="26.70" y="44.00" width="38.60" height="114.60" fill="url(#g6)" /><rect x="26.70" y="38.30" width="38.60" height="13.70" fill="url(#g7)" mask="url(#m8)" /><rect x="26.70" y="110.00" width="5.00" height="48.60" fill="url(#g10)" mask="url(#m11)"/><rect x="60.30" y="110.00" width="5.00" height="48.60" fill="url(#g13)" mask="url(#m14)"/><rect x="6.20" y="28.90" width="79.40" height="9.70" fill="url(#g16)" /><rect x="38.60" y="28.90" width="14.90" height="9.90" fill="url(#g17)" /><path d="M34,158.6 C40,157.6 41,150 42,140 L50,140 C51,150 52,157.6 58,158.6 Z" fill="url(#g18)"/><rect x="6.20" y="158.60" width="79.40" height="3.20" fill="url(#g19)" /><path d="M6.2,28.9 L85.6,28.9" stroke="#ff40ff" stroke-width="0.8" fill="none"/><rect x="13.30" y="28.90" width="17.10" height="4.30" fill="url(#g20)" stroke="#7a0012" stroke-width="0.8"/><rect x="61.30" y="28.90" width="16.60" height="4.30" fill="url(#g21)" stroke="#7a0012" stroke-width="0.8"/><rect x="30.60" y="29.30" width="7.80" height="3.60" fill="#40d8ff" /><rect x="53.70" y="29.30" width="7.60" height="3.60" fill="#40d8ff" /><path d="M20.7,28.9 L20.7,21.8 L49.4,21.8 L49.4,25.6 L56.7,25.6 L56.7,21.8 L71.7,21.8 L71.7,28.9 Z" stroke="none" stroke-width="0" fill="#7a0012" /><path d="M20.7,28.9 L20.7,21.8 L49.4,21.8 L49.4,25.6 L56.7,25.6 L56.7,21.8 L71.7,21.8 L71.7,28.9" stroke="#ff40ff" stroke-width="0.7" fill="none" /><rect x="25.60" y="25.90" width="15.50" height="2.10" fill="#ffa000" /><rect x="44.70" y="25.90" width="21.30" height="2.10" fill="url(#g22)" /><path d="M38.60,32.90 L38.60,38.30 L26.70,38.30 L26.70,158.60 L6.20,158.60" stroke="#502010" stroke-width="1.1" fill="none" /><path d="M53.50,32.90 L53.50,38.30 L65.30,38.30 L65.30,158.60 L85.60,158.60" stroke="#502010" stroke-width="1.1" fill="none" /><path d="M6.2,55.0 12.0,49.0 16.0,45.0 19.0,41.5 22.0,39.5 26.0,38.5" stroke="#c0fff0" stroke-width="0.6" fill="none" stroke-opacity="0.9"/><path d="M85.6,55.0 80.0,49.0 76.0,45.0 73.0,41.5 70.0,39.5 66.0,38.5" stroke="#c0fff0" stroke-width="0.6" fill="none" stroke-opacity="0.9"/><path d="M39.0,48.0 39.3,80.0 39.8,120.0 39.6,150.0" stroke="#fff0c0" stroke-width="0.5" fill="none" stroke-opacity="0.6"/><path d="M52.7,48.0 52.4,80.0 52.0,120.0 52.2,150.0" stroke="#fff0c0" stroke-width="0.5" fill="none" stroke-opacity="0.6"/><rect x="95.30" y="29.40" width="78.20" height="129.50" fill="#0af60a" /><rect x="114.70" y="44.00" width="39.20" height="114.90" fill="url(#g23)" /><rect x="114.70" y="38.60" width="39.20" height="13.40" fill="url(#g24)" mask="url(#m25)" /><rect x="95.30" y="29.40" width="78.20" height="9.50" fill="#18f0f0" /><rect x="125.80" y="29.40" width="16.50" height="9.70" fill="url(#g27)" /><rect x="118.40" y="29.80" width="7.20" height="3.80" fill="#a0f080" /><rect x="142.50" y="29.80" width="7.80" height="3.80" fill="#a0f080" /><path d="M124,158.9 C130,157.9 130,150 130.5,142 L139,142 C139.5,150 140,157.9 146,158.9 Z" fill="url(#g28)"/><rect x="95.30" y="158.90" width="78.20" height="3.10" fill="url(#g29)" /><path d="M95.3,29.4 L173.5,29.4" stroke="#ff40ff" stroke-width="0.8" fill="none"/><rect x="102.20" y="29.40" width="16.10" height="4.00" fill="url(#g30)" stroke="#7a0012" stroke-width="0.8"/><rect x="150.30" y="29.40" width="16.10" height="4.00" fill="url(#g31)" stroke="#7a0012" stroke-width="0.8"/><path d="M108.9,29.4 L108.9,22.4 L159.5,22.4 L159.5,29.4 Z" stroke="none" stroke-width="0" fill="#7a0012" /><path d="M108.9,29.4 L108.9,22.4 L159.5,22.4 L159.5,29.4" stroke="#ff40ff" stroke-width="0.7" fill="none" /><rect x="114.10" y="26.60" width="40.50" height="2.20" fill="url(#g32)" /><path d="M125.80,33.40 L125.80,38.60 L114.70,38.60 L114.70,158.90 L95.30,158.90" stroke="#502010" stroke-width="1.1" fill="none" /><path d="M142.30,33.40 L142.30,38.60 L153.90,38.60 L153.90,158.90 L173.50,158.90" stroke="#502010" stroke-width="1.1" fill="none" /><path d="M95.6,107.5 98.0,103.0 100.5,97.4 102.9,86.9 104.0,68.0 105.2,54.0 107.6,41.0 110.0,39.2" stroke="#d0ffd0" stroke-width="0.6" fill="none" stroke-opacity="0.9"/><path d="M173.2,107.5 170.8,103.0 168.3,97.4 165.9,86.9 164.8,68.0 163.6,54.0 161.2,41.0 158.8,39.2" stroke="#d0ffd0" stroke-width="0.6" fill="none" stroke-opacity="0.9"/><path d="M124.5,49.0 124.5,100.0 124.5,150.0" stroke="#fff0b0" stroke-width="0.5" fill="none" stroke-opacity="0.8"/><path d="M144.5,49.0 144.5,100.0 144.5,150.0" stroke="#fff0b0" stroke-width="0.5" fill="none" stroke-opacity="0.8"/><rect x="186.90" y="40.20" width="16.10" height="106.40" fill="url(#g33)" /><text y="48.0" font-family="'Liberation Sans', sans-serif" font-size="11.0" font-weight="bold" fill="#111"><tspan x="208.9" textLength="28.3" lengthAdjust="spacingAndGlyphs">1.000</tspan><tspan x="241.8" font-size="10.5">×</tspan><tspan x="252.7" textLength="11.2" lengthAdjust="spacingAndGlyphs">10</tspan><tspan x="264.3" y="44.6" font-size="8.4">5</tspan></text><text y="63.6" font-family="'Liberation Sans', sans-serif" font-size="11.0" font-weight="bold" fill="#111"><tspan x="208.9" textLength="28.3" lengthAdjust="spacingAndGlyphs">2.154</tspan><tspan x="241.8" font-size="10.5">×</tspan><tspan x="252.7" textLength="11.2" lengthAdjust="spacingAndGlyphs">10</tspan><tspan x="264.3" y="60.2" font-size="8.4">2</tspan></text><text y="79.6" font-family="'Liberation Sans', sans-serif" font-size="11.0" font-weight="bold" fill="#111"><tspan x="208.9" textLength="28.3" lengthAdjust="spacingAndGlyphs">1.848</tspan><tspan x="241.8" font-size="10.5">×</tspan><tspan x="252.7" textLength="11.2" lengthAdjust="spacingAndGlyphs">10</tspan><tspan x="264.3" y="76.19999999999999" font-size="8.4">1</tspan></text><text y="95.5" font-family="'Liberation Sans', sans-serif" font-size="11.0" font-weight="bold" fill="#111"><tspan x="208.9" textLength="28.3" lengthAdjust="spacingAndGlyphs">1.585</tspan><tspan x="241.8" font-size="10.5">×</tspan><tspan x="252.7" textLength="11.2" lengthAdjust="spacingAndGlyphs">10</tspan><tspan x="264.3" y="92.1" font-size="8.4">0</tspan></text><text y="113.6" font-family="'Liberation Sans', sans-serif" font-size="11.0" font-weight="bold" fill="#111"><tspan x="207.9" textLength="28.3" lengthAdjust="spacingAndGlyphs">1.359</tspan><tspan x="240.8" font-size="10.5">×</tspan><tspan x="251.7" textLength="11.2" lengthAdjust="spacingAndGlyphs">10</tspan><tspan x="262.3" y="110.19999999999999" font-size="8.4">-1</tspan></text><text y="130.8" font-family="'Liberation Sans', sans-serif" font-size="11.0" font-weight="bold" fill="#111"><tspan x="207.9" textLength="28.3" lengthAdjust="spacingAndGlyphs">1.359</tspan><tspan x="240.8" font-size="10.5">×</tspan><tspan x="251.7" textLength="11.2" lengthAdjust="spacingAndGlyphs">10</tspan><tspan x="262.3" y="127.4" font-size="8.4">-2</tspan></text><text y="147.2" font-family="'Liberation Sans', sans-serif" font-size="11.0" font-weight="bold" fill="#111"><tspan x="207.9" textLength="28.3" lengthAdjust="spacingAndGlyphs">1.000</tspan><tspan x="240.8" font-size="10.5">×</tspan><tspan x="251.7" textLength="11.2" lengthAdjust="spacingAndGlyphs">10</tspan><tspan x="262.3" y="143.79999999999998" font-size="8.4">-3</tspan></text><text y="18.2" font-family="'Liberation Serif', serif" font-size="14.6" font-weight="bold" fill="#000" stroke="#000" stroke-width="0.08"><tspan x="43.8" textLength="205.2" lengthAdjust="spacingAndGlyphs">Electron current density (A/cm</tspan><tspan x="249.0" y="13.0" font-size="11.5">2</tspan><tspan x="255.4" y="18.2">)</tspan></text><rect x="296.30" y="28.30" width="71.40" height="133.80" fill="url(#g34)" /><rect x="314.60" y="28.30" width="35.60" height="120.00" fill="url(#g35)" /><path d="M323.3,28.3 L324.5,38 L326,45 L327,60 L327.4,100 L327.6,125 L335.8,125 L336.6,100 L336.5,60 L334.5,50 L333,40 L330.5,28.3 Z" fill="url(#g36)"/><rect x="296.30" y="162.10" width="71.40" height="2.30" fill="#10f0d8" /><path d="M296.3,28.3 L367.7,28.3" stroke="#ff40ff" stroke-width="0.8" fill="none"/><rect x="303.20" y="28.30" width="14.60" height="4.30" fill="#a0f000" stroke="#7a0012" stroke-width="0.8"/><rect x="345.80" y="28.30" width="14.60" height="4.30" fill="#a0f000" stroke="#7a0012" stroke-width="0.8"/><path d="M309.3,28.3 L309.3,21.2 L334.9,21.2 L334.9,25.3 L342.2,25.3 L342.2,21.2 L356.0,21.2 L356.0,28.3 Z" stroke="none" stroke-width="0" fill="#a0f000" /><path d="M309.3,28.3 L309.3,21.2 L334.9,21.2 L334.9,25.3 L342.2,25.3 L342.2,21.2 L356.0,21.2 L356.0,28.3" stroke="#ff40ff" stroke-width="0.7" fill="none" /><rect x="313.10" y="25.00" width="14.50" height="2.90" fill="#b8f000" stroke="#7a0012" stroke-width="0.7"/><rect x="330.50" y="25.00" width="20.40" height="2.90" fill="#b8f000" stroke="#7a0012" stroke-width="0.7"/><path d="M325.50,32.30 L325.50,37.60 L314.60,37.60 L314.60,162.10 L296.30,162.10" stroke="#8a3a10" stroke-width="0.9" fill="none" /><path d="M338.50,32.30 L338.50,37.60 L350.20,37.60 L350.20,162.10 L367.70,162.10" stroke="#8a3a10" stroke-width="0.9" fill="none" /><path d="M296.3,54.4 300.0,50.0 303.0,45.6 306.0,41.5 309.0,38.4 313.0,37.4" stroke="#f0fff0" stroke-width="0.5" fill="none" stroke-opacity="0.9"/><path d="M367.7,54.4 364.0,50.0 361.0,45.6 358.0,41.5 355.0,38.4 351.5,37.4" stroke="#f0fff0" stroke-width="0.5" fill="none" stroke-opacity="0.9"/><path d="M323.3,29.3 324.5,38.0 326.0,45.0 327.0,60.0 327.4,100.0 327.6,150.0 326.0,158.0 322.0,161.3 315.0,161.5" stroke="#f0fff0" stroke-width="0.5" fill="none" stroke-opacity="0.9"/><path d="M330.5,29.3 333.0,40.0 334.5,50.0 336.5,60.0 336.6,100.0 335.6,150.0 337.5,158.0 342.0,161.3 349.5,161.5" stroke="#f0fff0" stroke-width="0.5" fill="none" stroke-opacity="0.9"/><rect x="378.10" y="28.20" width="70.80" height="133.10" fill="url(#g37)" /><path d="M394.5,38 L396.3,38 L396.3,140 L382,140 L384,90 L385.3,69 L387,55 L388.3,46.5 L391,41 Z" fill="url(#g38)"/><path d="M432,38 L431.0,38 L431.0,140 L445,140 L443,90 L441.5,69 L439.5,55 L437.5,46.5 L435,41 Z" fill="url(#g39)"/><rect x="396.30" y="42.00" width="34.70" height="119.30" fill="url(#g40)" /><rect x="396.30" y="38.30" width="34.70" height="11.70" fill="url(#g41)" mask="url(#m42)" /><rect x="396.30" y="110.00" width="34.70" height="51.30" fill="url(#g44)" /><path d="M410,46 C411,43 415,43 416,46 C419,60 421.5,85 421.5,105 C421.5,120 417,132 412.8,145 C408.5,132 404.5,120 404.5,105 C404.5,85 407,60 410,46 Z" fill="url(#g45)" filter="url(#blur2)"/><rect x="378.10" y="161.30" width="70.80" height="2.00" fill="#40e000" /><rect x="378.10" y="28.20" width="70.80" height="10.40" fill="#ffff00" /><rect x="405.80" y="28.20" width="14.70" height="10.60" fill="url(#g46)" /><path d="M378.1,28.2 L448.9,28.2" stroke="#ff40ff" stroke-width="0.8" fill="none"/><rect x="384.20" y="28.20" width="15.80" height="4.00" fill="#ffff00" stroke="#7a0012" stroke-width="0.8"/><rect x="428.20" y="28.20" width="14.50" height="4.00" fill="#ffff00" stroke="#7a0012" stroke-width="0.8"/><path d="M390.5,28.2 L390.5,21.4 L437.3,21.4 L437.3,28.2 Z" stroke="none" stroke-width="0" fill="#ffff00" /><path d="M390.5,28.2 L390.5,21.4 L437.3,21.4 L437.3,28.2" stroke="#ff40ff" stroke-width="0.7" fill="none" /><rect x="395.00" y="25.40" width="37.70" height="2.70" fill="#ffd800" stroke="#7a0012" stroke-width="0.7"/><path d="M405.80,32.20 L405.80,38.30 L396.30,38.30 L396.30,161.30 L378.10,161.30" stroke="#8a3a10" stroke-width="0.9" fill="none" /><path d="M420.50,32.20 L420.50,38.30 L431.00,38.30 L431.00,161.30 L448.90,161.30" stroke="#8a3a10" stroke-width="0.9" fill="none" /><path d="M379.6,155.0 382.0,120.0 384.0,90.0 385.3,69.0 387.0,55.0 388.3,46.5 391.0,41.0 394.5,38.0" stroke="#fffae0" stroke-width="0.5" fill="none" stroke-opacity="0.9"/><path d="M447.4,155.0 445.0,120.0 443.0,90.0 441.5,69.0 439.5,55.0 437.5,46.5 435.0,41.0 432.0,38.0" stroke="#fffae0" stroke-width="0.5" fill="none" stroke-opacity="0.9"/><path d="M407.8,38.5 405.5,45.4 404.7,60.0 404.7,120.0 404.5,156.0 401.0,159.5 397.0,160.5" stroke="#fff0c0" stroke-width="0.5" fill="none" stroke-opacity="0.9"/><path d="M419.2,38.5 421.3,45.4 421.8,60.0 421.8,120.0 422.0,156.0 426.0,159.5 430.5,160.5" stroke="#fff0c0" stroke-width="0.5" fill="none" stroke-opacity="0.9"/><rect x="464.00" y="39.90" width="14.80" height="107.10" fill="url(#g47)" /><text y="48.0" font-family="'Liberation Sans', sans-serif" font-size="11.0" font-weight="bold" fill="#111"><tspan x="483.9" textLength="28.3" lengthAdjust="spacingAndGlyphs">1.600</tspan><tspan x="516.8" font-size="10.5">×</tspan><tspan x="527.6999999999999" textLength="11.2" lengthAdjust="spacingAndGlyphs">10</tspan><tspan x="539.3" y="44.6" font-size="8.4">3</tspan></text><text y="63.3" font-family="'Liberation Sans', sans-serif" font-size="11.0" font-weight="bold" fill="#111"><tspan x="483.9" textLength="28.3" lengthAdjust="spacingAndGlyphs">1.333</tspan><tspan x="516.8" font-size="10.5">×</tspan><tspan x="527.6999999999999" textLength="11.2" lengthAdjust="spacingAndGlyphs">10</tspan><tspan x="539.3" y="59.9" font-size="8.4">3</tspan></text><text y="79.1" font-family="'Liberation Sans', sans-serif" font-size="11.0" font-weight="bold" fill="#111"><tspan x="483.9" textLength="28.3" lengthAdjust="spacingAndGlyphs">1.227</tspan><tspan x="516.8" font-size="10.5">×</tspan><tspan x="527.6999999999999" textLength="11.2" lengthAdjust="spacingAndGlyphs">10</tspan><tspan x="539.3" y="75.69999999999999" font-size="8.4">3</tspan></text><text y="94.6" font-family="'Liberation Sans', sans-serif" font-size="11.0" font-weight="bold" fill="#111"><tspan x="483.9" textLength="28.3" lengthAdjust="spacingAndGlyphs">1.120</tspan><tspan x="516.8" font-size="10.5">×</tspan><tspan x="527.6999999999999" textLength="11.2" lengthAdjust="spacingAndGlyphs">10</tspan><tspan x="539.3" y="91.19999999999999" font-size="8.4">3</tspan></text><text y="113.7" font-family="'Liberation Sans', sans-serif" font-size="11.0" font-weight="bold" fill="#111"><tspan x="483.9" textLength="28.3" lengthAdjust="spacingAndGlyphs">1.013</tspan><tspan x="516.8" font-size="10.5">×</tspan><tspan x="527.6999999999999" textLength="11.2" lengthAdjust="spacingAndGlyphs">10</tspan><tspan x="539.3" y="110.3" font-size="8.4">3</tspan></text><text y="130.1" font-family="'Liberation Sans', sans-serif" font-size="11.0" font-weight="bold" fill="#111"><tspan x="483.9" textLength="28.3" lengthAdjust="spacingAndGlyphs">9.067</tspan><tspan x="516.8" font-size="10.5">×</tspan><tspan x="527.6999999999999" textLength="11.2" lengthAdjust="spacingAndGlyphs">10</tspan><tspan x="539.3" y="126.69999999999999" font-size="8.4">2</tspan></text><text y="146.3" font-family="'Liberation Sans', sans-serif" font-size="11.0" font-weight="bold" fill="#111"><tspan x="483.9" textLength="28.3" lengthAdjust="spacingAndGlyphs">8.000</tspan><tspan x="516.8" font-size="10.5">×</tspan><tspan x="527.6999999999999" textLength="11.2" lengthAdjust="spacingAndGlyphs">10</tspan><tspan x="539.3" y="142.9" font-size="8.4">2</tspan></text><text y="18.9" font-family="'Liberation Serif', serif" font-size="14.8" font-weight="bold" fill="#000" stroke="#000" stroke-width="0.08"><tspan x="329.6" textLength="153.0" lengthAdjust="spacingAndGlyphs">Lattice temperature (K)</tspan></text><rect x="6.20" y="186.20" width="78.70" height="129.90" fill="url(#g48)" /><rect x="6.20" y="196.00" width="19.70" height="120.10" fill="url(#g49)" mask="url(#m50)"/><rect x="65.50" y="196.00" width="19.40" height="120.10" fill="url(#g52)" mask="url(#m53)"/><rect x="6.20" y="300.00" width="10.00" height="16.10" fill="#00e8c8" mask="url(#m55)"/><rect x="74.90" y="300.00" width="10.00" height="16.10" fill="#00e8c8" mask="url(#m57)"/><path d="M6.2,186.2 L6.2,213 C12,208 16,202 20,198 L24,196 L25.9,195.5 L25.9,186.2 Z" fill="#0040ff"/><path d="M84.9,186.2 L84.9,213 C79,208 75,202 71,198 L67,196 L65.5,195.5 L65.5,186.2 Z" fill="#0040ff"/><rect x="25.90" y="195.00" width="39.60" height="121.10" fill="url(#g59)" /><path d="M40.6,205 C42,202.5 49,202.5 50.6,205 L50.6,245 L45.6,259 L40.6,245 Z" fill="#0088ff"/><path d="M37,316.1 C38,300 42,297 45.8,297 C50,297 54,300 55,316.1 Z" fill="#0080ff"/><path d="M38,316.1 C39,310 42,308.5 46,308.5 C50,308.5 53,310 54,316.1 Z" fill="#0040ff"/><rect x="6.20" y="186.20" width="78.70" height="9.10" fill="#0038ff" /><rect x="37.30" y="186.20" width="15.90" height="9.30" fill="url(#g60)" /><rect x="6.20" y="316.10" width="78.70" height="2.30" fill="#0020ff" /><path d="M6.2,186.2 L84.9,186.2" stroke="#ff40ff" stroke-width="0.8" fill="none"/><rect x="13.60" y="186.20" width="16.70" height="3.90" fill="#1030ff" stroke="#7a0012" stroke-width="0.8"/><rect x="60.20" y="186.20" width="17.60" height="3.90" fill="#1030ff" stroke="#7a0012" stroke-width="0.8"/><path d="M19.9,186.2 L19.9,179.1 L48.3,179.1 L48.3,183.2 L57.0,183.2 L57.0,179.1 L71.2,179.1 L71.2,186.2 Z" stroke="none" stroke-width="0" fill="#1838ff" /><path d="M19.9,186.2 L19.9,179.1 L48.3,179.1 L48.3,183.2 L57.0,183.2 L57.0,179.1 L71.2,179.1 L71.2,186.2" stroke="#ff40ff" stroke-width="0.7" fill="none" /><rect x="24.30" y="182.60" width="16.90" height="2.20" fill="#1028f0" stroke="#7a0012" stroke-width="0.6"/><rect x="43.90" y="182.60" width="22.40" height="2.20" fill="#1028f0" stroke="#7a0012" stroke-width="0.6"/><rect x="21.80" y="180.00" width="21.40" height="5.60" fill="#40d8ff" filter="url(#blur1)" opacity="0.9"/><rect x="24.30" y="182.60" width="16.90" height="2.20" fill="#1028f0" stroke="#7a0012" stroke-width="0.6"/><path d="M37.30,190.20 L37.30,195.00 L25.90,195.00 L25.90,316.10 L6.20,316.10" stroke="#503030" stroke-width="0.9" fill="none" /><path d="M53.20,190.20 L53.20,195.00 L65.50,195.00 L65.50,316.10 L84.90,316.10" stroke="#503030" stroke-width="0.9" fill="none" /><path d="M6.2,213.0 12.0,208.0 16.0,202.0 20.0,198.0 24.0,196.0" stroke="#c0e8ff" stroke-width="0.6" fill="none" stroke-opacity="0.9"/><path d="M84.9,213.0 79.0,208.0 75.0,202.0 71.0,198.0 67.0,196.0" stroke="#c0e8ff" stroke-width="0.6" fill="none" stroke-opacity="0.9"/><path d="M40.0,187.0 40.5,196.0 39.6,205.0 39.3,236.0 40.9,270.0 40.9,305.0 36.5,314.5 26.2,315.3" stroke="#c0f0ff" stroke-width="0.6" fill="none" stroke-opacity="0.9"/><path d="M50.5,187.0 50.7,196.0 51.0,205.0 51.0,236.0 50.5,270.0 50.5,305.0 54.9,314.5 65.3,315.3" stroke="#c0f0ff" stroke-width="0.6" fill="none" stroke-opacity="0.9"/><rect x="94.60" y="186.20" width="78.70" height="130.10" fill="url(#g61)" /><rect x="94.60" y="196.00" width="20.30" height="120.30" fill="url(#g62)" mask="url(#m63)"/><rect x="153.60" y="196.00" width="19.70" height="120.30" fill="url(#g65)" mask="url(#m66)"/><rect x="94.60" y="300.00" width="10.00" height="16.30" fill="#00e8c8" mask="url(#m68)"/><rect x="163.30" y="300.00" width="10.00" height="16.30" fill="#00e8c8" mask="url(#m70)"/><path d="M94.6,186.2 L94.6,264 C97,258 101,248 103.4,230 C104,220 104.3,212 105,205 C106,200 108,197 110,196 L114.9,195.6 L114.9,186.2 Z" fill="#1060ff"/><path d="M173.3,186.2 L173.3,264 C171,258 167,248 164.5,230 C164,220 163.6,212 163,205 C162,200 160,197 158,196 L153.6,195.6 L153.6,186.2 Z" fill="#1060ff"/><rect x="114.90" y="195.40" width="38.70" height="120.90" fill="url(#g72)" /><rect x="114.90" y="195.40" width="38.70" height="12.00" fill="url(#g73)" mask="url(#m74)" /><path d="M126.3,215 L138.7,215 L138.7,250 C138.7,258 136,265 132.5,265 C129,265 126.3,258 126.3,250 Z" fill="#0080ff"/><path d="M129,217.4 L138.7,217.4 L138.7,224 L134,231 L129,224 Z" fill="#0070ff"/><path d="M125.5,316.3 C127,308 130,305.5 134,305.5 C138,305.5 141,308 142.5,316.3 Z" fill="#0070ff"/><rect x="94.60" y="186.20" width="78.70" height="9.50" fill="#1048ff" /><rect x="125.50" y="186.20" width="16.10" height="9.70" fill="url(#g76)" /><rect x="94.60" y="316.30" width="78.70" height="2.50" fill="#0020ff" /><path d="M94.6,186.2 L173.3,186.2" stroke="#ff40ff" stroke-width="0.8" fill="none"/><rect x="101.70" y="186.20" width="16.70" height="3.90" fill="#1048ff" stroke="#7a0012" stroke-width="0.8"/><rect x="148.70" y="186.20" width="16.90" height="3.90" fill="#1048ff" stroke="#7a0012" stroke-width="0.8"/><path d="M108.7,186.2 L108.7,179.2 L159.8,179.2 L159.8,186.2 Z" stroke="none" stroke-width="0" fill="#40b0ff" /><path d="M108.7,186.2 L108.7,179.2 L159.8,179.2 L159.8,186.2" stroke="#ff40ff" stroke-width="0.7" fill="none" /><rect x="113.10" y="182.70" width="41.40" height="3.00" fill="#1030ff" stroke="#7a0012" stroke-width="0.5"/><path d="M125.50,190.20 L125.50,195.40 L114.90,195.40 L114.90,316.30 L94.60,316.30" stroke="#503030" stroke-width="0.9" fill="none" /><path d="M141.60,190.20 L141.60,195.40 L153.60,195.40 L153.60,316.30 L173.30,316.30" stroke="#503030" stroke-width="0.9" fill="none" /><path d="M95.1,264.0 97.0,258.0 101.0,248.0 103.4,230.0 104.3,212.0 105.0,205.0 107.0,198.0 110.0,196.0" stroke="#c0e8ff" stroke-width="0.6" fill="none" stroke-opacity="0.9"/><path d="M172.8,264.0 171.0,258.0 167.0,248.0 164.5,230.0 163.6,212.0 163.0,205.0 161.0,198.0 158.0,196.0" stroke="#c0e8ff" stroke-width="0.6" fill="none" stroke-opacity="0.9"/><path d="M128.1,187.0 126.5,195.0 124.8,203.0 124.6,230.0 124.6,300.0 124.8,312.0 122.0,315.0 115.2,315.6" stroke="#c0f0ff" stroke-width="0.6" fill="none" stroke-opacity="0.9"/><path d="M138.7,187.0 140.5,195.0 142.8,203.0 143.0,230.0 143.0,300.0 142.8,312.0 146.0,315.0 153.4,315.6" stroke="#c0f0ff" stroke-width="0.6" fill="none" stroke-opacity="0.9"/><rect x="185.30" y="201.20" width="16.20" height="106.60" fill="url(#g77)" /><text y="208.7" font-family="'Liberation Sans', sans-serif" font-size="11.0" font-weight="bold" fill="#111"><tspan x="207.4" textLength="28.3" lengthAdjust="spacingAndGlyphs">3.300</tspan><tspan x="240.3" font-size="10.5">×</tspan><tspan x="251.2" textLength="11.2" lengthAdjust="spacingAndGlyphs">10</tspan><tspan x="262.8" y="205.29999999999998" font-size="8.4">6</tspan></text><text y="224.1" font-family="'Liberation Sans', sans-serif" font-size="11.0" font-weight="bold" fill="#111"><tspan x="207.4" textLength="28.3" lengthAdjust="spacingAndGlyphs">2.200</tspan><tspan x="240.3" font-size="10.5">×</tspan><tspan x="251.2" textLength="11.2" lengthAdjust="spacingAndGlyphs">10</tspan><tspan x="262.8" y="220.7" font-size="8.4">6</tspan></text><text y="240.0" font-family="'Liberation Sans', sans-serif" font-size="11.0" font-weight="bold" fill="#111"><tspan x="207.4" textLength="28.3" lengthAdjust="spacingAndGlyphs">1.760</tspan><tspan x="240.3" font-size="10.5">×</tspan><tspan x="251.2" textLength="11.2" lengthAdjust="spacingAndGlyphs">10</tspan><tspan x="262.8" y="236.6" font-size="8.4">6</tspan></text><text y="256.7" font-family="'Liberation Sans', sans-serif" font-size="11.0" font-weight="bold" fill="#111"><tspan x="207.4" textLength="28.3" lengthAdjust="spacingAndGlyphs">1.320</tspan><tspan x="240.3" font-size="10.5">×</tspan><tspan x="251.2" textLength="11.2" lengthAdjust="spacingAndGlyphs">10</tspan><tspan x="262.8" y="253.29999999999998" font-size="8.4">6</tspan></text><text y="274.1" font-family="'Liberation Sans', sans-serif" font-size="11.0" font-weight="bold" fill="#111"><tspan x="207.4" textLength="28.3" lengthAdjust="spacingAndGlyphs">8.800</tspan><tspan x="240.3" font-size="10.5">×</tspan><tspan x="251.2" textLength="11.2" lengthAdjust="spacingAndGlyphs">10</tspan><tspan x="262.8" y="270.70000000000005" font-size="8.4">5</tspan></text><text y="290.5" font-family="'Liberation Sans', sans-serif" font-size="11.0" font-weight="bold" fill="#111"><tspan x="207.4" textLength="28.3" lengthAdjust="spacingAndGlyphs">4.400</tspan><tspan x="240.3" font-size="10.5">×</tspan><tspan x="251.2" textLength="11.2" lengthAdjust="spacingAndGlyphs">10</tspan><tspan x="262.8" y="287.1" font-size="8.4">5</tspan></text><text y="307.2" font-family="'Liberation Sans', sans-serif" font-size="11.0" font-weight="bold" fill="#111"><tspan x="207.4" textLength="28.3" lengthAdjust="spacingAndGlyphs">0.000</tspan><tspan x="240.3" font-size="10.5">×</tspan><tspan x="251.2" textLength="11.2" lengthAdjust="spacingAndGlyphs">10</tspan><tspan x="262.8" y="303.8" font-size="8.4">0</tspan></text><text y="173.5" font-family="'Liberation Serif', serif" font-size="14.6" font-weight="bold" fill="#000" stroke="#000" stroke-width="0.08"><tspan x="39.6" textLength="130.0" lengthAdjust="spacingAndGlyphs">Electric field(V/cm)</tspan></text><text y="336.8" font-family="'Liberation Serif', serif" font-size="14.6" font-weight="bold" fill="#000" stroke="#000" stroke-width="0.08"><tspan x="23.8" textLength="41.5" lengthAdjust="spacingAndGlyphs">MCD-</tspan></text><text y="336.0" font-family="'Liberation Serif', serif" font-size="14.6" font-weight="bold" fill="#000" stroke="#000" stroke-width="0.08"><tspan x="119.9" textLength="21.8" lengthAdjust="spacingAndGlyphs">SJ-</tspan></text><rect x="296.40" y="187.70" width="71.50" height="126.70" fill="url(#g78)" /><ellipse cx="332.2" cy="320" rx="32" ry="27" clip-path="url(#c79)" fill="url(#g80)"/><rect x="296.40" y="187.70" width="18.10" height="75.00" fill="url(#g81)" mask="url(#m82)"/><rect x="350.00" y="187.70" width="17.90" height="75.00" fill="url(#g84)" mask="url(#m85)"/><rect x="314.50" y="196.50" width="35.50" height="62.00" fill="#18e400" mask="url(#m87)"/><path d="M325.4,187.7 L339.1,187.7 L338,196 L336.5,205 L336,250 L327.2,250 L327.2,205 L326,196 Z" fill="url(#g89)"/><rect x="296.40" y="187.70" width="23.10" height="8.80" fill="url(#g90)" /><rect x="345.00" y="187.70" width="22.90" height="8.80" fill="url(#g91)" /><rect x="325.40" y="187.70" width="13.70" height="9.30" fill="url(#g92)" /><rect x="318.40" y="188.00" width="4.00" height="3.30" fill="#40f0e0" /><rect x="342.00" y="188.00" width="3.60" height="3.30" fill="#40f0e0" /><rect x="296.40" y="314.40" width="71.50" height="2.70" fill="#1028ff" /><path d="M296.4,187.7 L367.9,187.7" stroke="#ff40ff" stroke-width="0.8" fill="none"/><rect x="304.00" y="187.70" width="14.40" height="3.50" fill="#2040ff" stroke="#7a0012" stroke-width="0.8"/><rect x="345.60" y="187.70" width="14.90" height="3.50" fill="#2040ff" stroke="#7a0012" stroke-width="0.8"/><path d="M309.0,187.7 L309.0,180.6 L335.1,180.6 L335.1,184.2 L342.1,184.2 L342.1,180.6 L355.3,180.6 L355.3,187.7 Z" stroke="none" stroke-width="0" fill="#7a0012" /><path d="M309.0,187.7 L309.0,180.6 L335.1,180.6 L335.1,184.2 L342.1,184.2 L342.1,180.6 L355.3,180.6 L355.3,187.7" stroke="#ff40ff" stroke-width="0.7" fill="none" /><rect x="314.00" y="185.00" width="13.20" height="1.90" fill="#ff8000" /><rect x="330.70" y="185.00" width="20.20" height="1.90" fill="url(#g93)" /><path d="M325.40,191.70 L325.40,196.50 L314.50,196.50 L314.50,314.40 L296.40,314.40" stroke="#901010" stroke-width="0.9" fill="none" /><path d="M339.10,191.70 L339.10,196.50 L350.00,196.50 L350.00,314.40 L367.90,314.40" stroke="#901010" stroke-width="0.9" fill="none" /><path d="M296.4,212.3 300.0,207.9 304.0,201.7 308.0,198.0 312.0,196.6" stroke="#f0fff0" stroke-width="0.5" fill="none" stroke-opacity="0.9"/><path d="M367.9,212.3 364.0,207.9 360.0,201.7 356.0,198.0 352.5,196.6" stroke="#f0fff0" stroke-width="0.5" fill="none" stroke-opacity="0.9"/><path d="M326.0,188.2 327.0,196.0 327.2,205.0 327.4,250.0 327.6,307.6 324.7,313.5 314.8,314.2" stroke="#e0fff0" stroke-width="0.5" fill="none" stroke-opacity="0.9"/><path d="M338.0,188.2 337.0,196.0 336.5,205.0 336.4,250.0 336.4,307.6 339.5,313.5 349.7,314.2" stroke="#e0fff0" stroke-width="0.5" fill="none" stroke-opacity="0.9"/><rect x="377.90" y="187.70" width="71.80" height="126.50" fill="url(#g94)" /><rect x="377.90" y="196.00" width="18.30" height="72.00" fill="url(#g95)" mask="url(#m96)"/><rect x="431.80" y="196.00" width="17.90" height="72.00" fill="url(#g98)" mask="url(#m99)"/><path d="M377.9,196 L388,196.5 C384.5,199 382.6,206 382.4,215 C382.2,230 381.8,245 380.5,252 C379.8,255 379,257.5 377.9,260 Z" fill="#ff2000" opacity="0.9" filter="url(#blur1)"/><path d="M449.7,196 L440,196.5 C443.5,199 445.4,206 445.6,215 C445.8,230 446.2,245 447.5,252 C448.2,255 449,257.5 449.7,260 Z" fill="#ff2000" opacity="0.9" filter="url(#blur1)"/><rect x="396.20" y="196.50" width="35.60" height="76.00" fill="url(#g101)" mask="url(#m102)"/><path d="M405.4,207 C405.5,205 406,204.2 407,204.2 L420,204.2 C421,204.2 421.6,205 421.7,207 L421.5,250 C420.5,262 416.5,276 413.5,287 C410.5,276 406.5,262 405.5,250 Z" fill="url(#g104)" filter="url(#blur1)"/><path d="M409,196.5 L418,196.5 L417.6,245 C417,256 415.2,264 413.5,273 C411.8,264 410,256 409.4,245 Z" fill="url(#g105)" filter="url(#blur1)"/><rect x="377.90" y="187.70" width="71.80" height="9.10" fill="#ff1800" /><rect x="406.50" y="187.70" width="14.10" height="9.30" fill="url(#g106)" /><rect x="399.50" y="188.00" width="7.00" height="3.30" fill="#c0f000" /><rect x="420.60" y="188.00" width="7.00" height="3.30" fill="#c0f000" /><rect x="377.90" y="314.20" width="71.80" height="3.30" fill="#0818ff" /><path d="M377.9,187.7 L449.7,187.7" stroke="#ff40ff" stroke-width="0.8" fill="none"/><rect x="385.40" y="187.70" width="14.10" height="3.50" fill="url(#g107)" stroke="#7a0012" stroke-width="0.8"/><rect x="427.60" y="187.70" width="14.10" height="3.50" fill="url(#g108)" stroke="#7a0012" stroke-width="0.8"/><path d="M390.7,187.7 L390.7,181.2 L436.9,181.2 L436.9,187.7 Z" stroke="none" stroke-width="0" fill="#7a0012" /><path d="M390.7,187.7 L390.7,181.2 L436.9,181.2 L436.9,187.7" stroke="#ff40ff" stroke-width="0.7" fill="none" /><rect x="395.10" y="185.00" width="37.80" height="2.10" fill="#ff2020" /><path d="M406.50,191.70 L406.50,196.50 L396.20,196.50 L396.20,314.20 L377.90,314.20" stroke="#901010" stroke-width="0.9" fill="none" /><path d="M420.60,191.70 L420.60,196.50 L431.80,196.50 L431.80,314.20 L449.70,314.20" stroke="#901010" stroke-width="0.9" fill="none" /><path d="M378.4,263.0 379.5,261.0 381.0,258.0 382.0,255.0 385.0,245.0 386.0,230.0 386.3,215.0 386.5,206.0 388.0,200.0 392.0,196.8" stroke="#ffe8d0" stroke-width="0.5" fill="none" stroke-opacity="0.9"/><path d="M449.2,263.0 448.5,261.0 447.0,258.0 446.0,255.0 443.0,245.0 442.0,230.0 441.7,215.0 441.5,206.0 440.0,200.0 436.0,196.8" stroke="#ffe8d0" stroke-width="0.5" fill="none" stroke-opacity="0.9"/><path d="M408.0,197.0 405.8,204.4 405.3,215.0 405.3,270.0 405.3,310.0 402.0,313.4 396.5,314.0" stroke="#fff0d0" stroke-width="0.5" fill="none" stroke-opacity="0.9"/><path d="M419.0,197.0 421.3,204.4 421.8,215.0 422.0,270.0 422.7,310.0 426.0,313.4 431.5,314.0" stroke="#fff0d0" stroke-width="0.5" fill="none" stroke-opacity="0.9"/><rect x="463.90" y="200.30" width="15.20" height="107.50" fill="url(#g109)" /><text y="208.3" font-family="'Liberation Sans', sans-serif" font-size="11.0" font-weight="bold" fill="#111"><tspan x="484.9" textLength="28.3" lengthAdjust="spacingAndGlyphs">5.000</tspan><tspan x="517.8" font-size="10.5">×</tspan><tspan x="528.6999999999999" textLength="11.2" lengthAdjust="spacingAndGlyphs">10</tspan><tspan x="540.3" y="204.9" font-size="8.4">2</tspan></text><text y="224.1" font-family="'Liberation Sans', sans-serif" font-size="11.0" font-weight="bold" fill="#111"><tspan x="485.2" textLength="28.3" lengthAdjust="spacingAndGlyphs">1.357</tspan><tspan x="518.1" font-size="10.5">×</tspan><tspan x="529.0" textLength="11.2" lengthAdjust="spacingAndGlyphs">10</tspan><tspan x="540.6" y="220.7" font-size="8.4">1</tspan></text><text y="240.0" font-family="'Liberation Sans', sans-serif" font-size="11.0" font-weight="bold" fill="#111"><tspan x="484.4" textLength="28.3" lengthAdjust="spacingAndGlyphs">3.207</tspan><tspan x="517.3" font-size="10.5">×</tspan><tspan x="528.1999999999999" textLength="11.2" lengthAdjust="spacingAndGlyphs">10</tspan><tspan x="539.8" y="236.6" font-size="8.4">0</tspan></text><text y="256.2" font-family="'Liberation Sans', sans-serif" font-size="11.0" font-weight="bold" fill="#111"><tspan x="483.5" textLength="28.3" lengthAdjust="spacingAndGlyphs">7.579</tspan><tspan x="516.4" font-size="10.5">×</tspan><tspan x="527.3" textLength="11.2" lengthAdjust="spacingAndGlyphs">10</tspan><tspan x="537.9" y="252.79999999999998" font-size="8.4">-1</tspan></text><text y="274.1" font-family="'Liberation Sans', sans-serif" font-size="11.0" font-weight="bold" fill="#111"><tspan x="483.5" textLength="28.3" lengthAdjust="spacingAndGlyphs">1.791</tspan><tspan x="516.4" font-size="10.5">×</tspan><tspan x="527.3" textLength="11.2" lengthAdjust="spacingAndGlyphs">10</tspan><tspan x="537.9" y="270.70000000000005" font-size="8.4">-1</tspan></text><text y="290.8" font-family="'Liberation Sans', sans-serif" font-size="11.0" font-weight="bold" fill="#111"><tspan x="483.5" textLength="28.3" lengthAdjust="spacingAndGlyphs">4.232</tspan><tspan x="516.4" font-size="10.5">×</tspan><tspan x="527.3" textLength="11.2" lengthAdjust="spacingAndGlyphs">10</tspan><tspan x="537.9" y="287.40000000000003" font-size="8.4">-2</tspan></text><text y="307.2" font-family="'Liberation Sans', sans-serif" font-size="11.0" font-weight="bold" fill="#111"><tspan x="483.5" textLength="28.3" lengthAdjust="spacingAndGlyphs">1.000</tspan><tspan x="516.4" font-size="10.5">×</tspan><tspan x="527.3" textLength="11.2" lengthAdjust="spacingAndGlyphs">10</tspan><tspan x="537.9" y="303.8" font-size="8.4">-2</tspan></text><text y="175.3" font-family="'Liberation Serif', serif" font-size="14.6" font-weight="bold" fill="#000" stroke="#000" stroke-width="0.08"><tspan x="314.1" textLength="172.4" lengthAdjust="spacingAndGlyphs">Hole current density (A/cm</tspan><tspan x="486.6" y="170.10000000000002" font-size="11.5">2</tspan><tspan x="493.4" y="175.3">)</tspan></text><text y="336.7" font-family="'Liberation Serif', serif" font-size="14.6" font-weight="bold" fill="#000" stroke="#000" stroke-width="0.08"><tspan x="311.0" textLength="40.5" lengthAdjust="spacingAndGlyphs">MCD-</tspan></text><text y="336.0" font-family="'Liberation Serif', serif" font-size="14.6" font-weight="bold" fill="#000" stroke="#000" stroke-width="0.08"><tspan x="406.8" textLength="21.6" lengthAdjust="spacingAndGlyphs">SJ-</tspan></text></svg></body></html>
